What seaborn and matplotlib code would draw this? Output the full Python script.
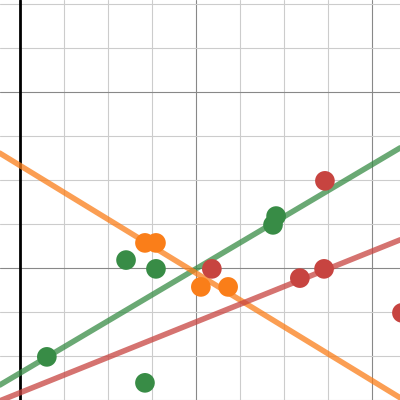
import numpy as np
import matplotlib
matplotlib.use("Agg")
import matplotlib.pyplot as plt
import seaborn as sns

# Point data
green_x = [0.61, 2.41, 3.09, 2.84, 5.75, 5.82]
green_y = [1.98, 4.18, 3.98, 1.39, 4.98, 5.18]
orange_x = [2.84, 3.09, 4.11, 4.73]
orange_y = [4.57, 4.57, 3.57, 3.57]
red_x = [4.36, 6.36, 6.91, 6.93, 8.68]
red_y = [3.98, 3.77, 3.98, 5.98, 2.98]

# Fitted line endpoints
green_line_x = [-0.46, 8.64]
green_line_y = [1.34, 6.73]
orange_line_x = [-0.46, 8.64]
orange_line_y = [6.61, 1.05]
red_line_x = [-0.46, 8.64]
red_line_y = [0.98, 4.64]

GREEN, ORANGE, RED = "#388c46", "#fa7e19", "#c74440"

sns.set_style("white")
fig, ax = plt.subplots(figsize=(4, 4), dpi=100)
fig.subplots_adjust(0, 0, 1, 1)
xmin, xmax = -0.4545, 8.636
ymin, ymax = 0.0, 9.09
ax.set_xlim(xmin, xmax)
ax.set_ylim(1.0, 10.09)

for v in np.arange(-1, 10):
    ax.axvline(v, color="#cccccc" if v % 4 else "#888888", lw=0.8, zorder=0)
for v in np.arange(0, 12):
    ax.axhline(v, color="#cccccc" if v % 4 else "#888888", lw=0.8, zorder=0)
ax.axvline(0, color="black", lw=2, zorder=1)

sns.lineplot(x=green_line_x, y=green_line_y, color=GREEN, lw=4, alpha=0.75, ax=ax)
sns.lineplot(x=orange_line_x, y=orange_line_y, color=ORANGE, lw=4, alpha=0.75, ax=ax)
sns.lineplot(x=red_line_x, y=red_line_y, color=RED, lw=4, alpha=0.75, ax=ax)

sns.scatterplot(x=green_x, y=green_y, color=GREEN, s=200, edgecolor="none", ax=ax, zorder=3)
sns.scatterplot(x=orange_x, y=orange_y, color=ORANGE, s=200, edgecolor="none", ax=ax, zorder=3)
sns.scatterplot(x=red_x, y=red_y, color=RED, s=200, edgecolor="none", ax=ax, zorder=3)

ax.set_xticks([])
ax.set_yticks([])
for s in ax.spines.values():
    s.set_visible(False)

fig.savefig("out.png", dpi=100)
